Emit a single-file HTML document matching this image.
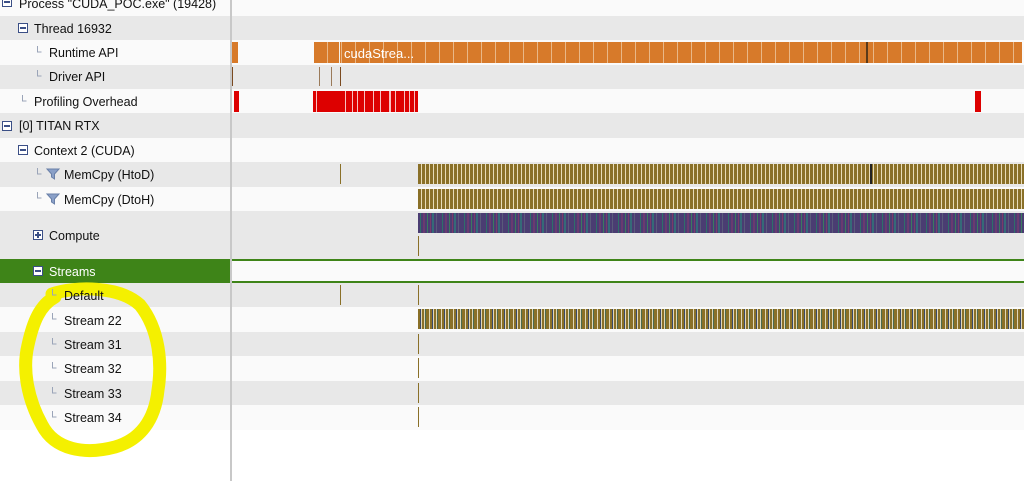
<!DOCTYPE html>
<html><head><meta charset="utf-8"><style>
html,body{margin:0;padding:0;width:1024px;height:481px;overflow:hidden;background:#fff;font-family:"Liberation Sans",sans-serif;}
</style></head><body>
<svg width="1024" height="481" xmlns="http://www.w3.org/2000/svg" style="display:block">
<defs>
<pattern id="olive" x="418" y="0" width="4" height="10" patternUnits="userSpaceOnUse">
<rect width="4" height="10" fill="#e8dcb8"/><rect width="3" height="10" fill="#8a7028"/></pattern>
<pattern id="olive2" x="418" y="0" width="12" height="10" patternUnits="userSpaceOnUse">
<rect width="12" height="10" fill="#e0d6b8"/><rect x="0" width="2" height="10" fill="#8a7028"/><rect x="2" width="1" height="10" fill="#3a4a6a"/><rect x="4" width="2" height="10" fill="#8a7028"/><rect x="7" width="1" height="10" fill="#4a6a50"/><rect x="8" width="3" height="10" fill="#8a7028"/></pattern>
<pattern id="comp" x="418" y="0" width="22" height="10" patternUnits="userSpaceOnUse">
<rect width="22" height="10" fill="#4a3d72"/><rect x="2" width="1" height="10" fill="#2f6f6a"/><rect x="5" width="2" height="10" fill="#6a3a70"/><rect x="9" width="1" height="10" fill="#3a7a60"/><rect x="12" width="1" height="10" fill="#7a3a6a"/><rect x="14" width="2" height="10" fill="#356a78"/><rect x="18" width="1" height="10" fill="#5a5a7a"/></pattern>
<pattern id="rt" x="314" y="0" width="14" height="10" patternUnits="userSpaceOnUse">
<rect width="14" height="10" fill="#d77a2a"/><rect x="13" width="1" height="10" fill="#e9b888"/></pattern>
</defs>
<rect x="0" y="0" width="1024" height="16" fill="#fafafa"/>
<rect x="0" y="16" width="1024" height="24" fill="#e8e8e8"/>
<rect x="0" y="40" width="1024" height="25" fill="#fafafa"/>
<rect x="0" y="65" width="1024" height="24" fill="#e8e8e8"/>
<rect x="0" y="89" width="1024" height="24" fill="#fafafa"/>
<rect x="0" y="113" width="1024" height="25" fill="#e8e8e8"/>
<rect x="0" y="138" width="1024" height="24" fill="#fafafa"/>
<rect x="0" y="162" width="1024" height="25" fill="#e8e8e8"/>
<rect x="0" y="187" width="1024" height="24" fill="#fafafa"/>
<rect x="0" y="211" width="1024" height="48" fill="#e8e8e8"/>
<rect x="0" y="259" width="230" height="24" fill="#3e8418"/>
<rect x="232" y="259" width="792" height="24" fill="#fafafa"/>
<rect x="232" y="259" width="792" height="2" fill="#3e8418"/>
<rect x="232" y="281" width="792" height="2" fill="#3e8418"/>
<rect x="0" y="283" width="1024" height="24" fill="#e8e8e8"/>
<rect x="0" y="307" width="1024" height="25" fill="#fafafa"/>
<rect x="0" y="332" width="1024" height="24" fill="#e8e8e8"/>
<rect x="0" y="356" width="1024" height="25" fill="#fafafa"/>
<rect x="0" y="381" width="1024" height="24" fill="#e8e8e8"/>
<rect x="0" y="405" width="1024" height="25" fill="#fafafa"/>
<rect x="0" y="430" width="1024" height="51" fill="#fff"/>
<rect x="230" y="0" width="2" height="481" fill="#c8c8c8"/>
<rect x="232" y="42" width="6" height="21" fill="#d77a2a"/>
<rect x="314" y="42" width="708" height="21" fill="url(#rt)"/>
<rect x="339" y="42" width="1" height="21" fill="#f5f0e8"/>
<rect x="866" y="42" width="2" height="21" fill="#5a3a1a"/>
<text x="344" y="58" font-size="13" fill="#fff">cudaStrea...</text>
<rect x="232" y="67" width="1" height="19" fill="#7a4a20"/>
<rect x="319" y="67" width="1" height="19" fill="#9a7a5a"/>
<rect x="331" y="67" width="1" height="19" fill="#9a7a5a"/>
<rect x="340" y="67" width="1" height="19" fill="#7a4a20"/>
<rect x="234" y="91" width="5" height="21" fill="#dd0000"/>
<rect x="313" y="91" width="105" height="21" fill="#dd0000"/>
<g fill="#f6c0c0"><rect x="316" y="91" width="1" height="21"/><rect x="345" y="91" width="1" height="21"/><rect x="352" y="91" width="1" height="21"/><rect x="357" y="91" width="1" height="21"/><rect x="364" y="91" width="1" height="21"/><rect x="373" y="91" width="1" height="21"/><rect x="380" y="91" width="1" height="21"/><rect x="389" y="91" width="2" height="21"/><rect x="395" y="91" width="1" height="21"/><rect x="404" y="91" width="1" height="21"/><rect x="409" y="91" width="1" height="21"/><rect x="414" y="91" width="1" height="21"/></g>
<rect x="975" y="91" width="6" height="21" fill="#dd0000"/>
<rect x="340" y="164" width="1" height="20" fill="#8a7028"/>
<rect x="418" y="164" width="606" height="20" fill="url(#olive)"/>
<rect x="870" y="164" width="2" height="20" fill="#222"/>
<rect x="418" y="189" width="606" height="20" fill="url(#olive)"/>
<rect x="418" y="213" width="606" height="20" fill="url(#comp)"/>
<rect x="418" y="236" width="1" height="20" fill="#8a7028"/>
<rect x="340" y="285" width="1" height="20" fill="#8a7028"/>
<rect x="418" y="285" width="1" height="20" fill="#8a7028"/>
<rect x="418" y="309" width="606" height="20" fill="url(#olive2)"/>
<rect x="418" y="334" width="1" height="20" fill="#8a7028"/>
<rect x="418" y="358" width="1" height="20" fill="#8a7028"/>
<rect x="418" y="383" width="1" height="20" fill="#8a7028"/>
<rect x="418" y="407" width="1" height="20" fill="#8a7028"/>
<!-- yellow circle (behind labels) -->
<path d="M52 294 C75 286,120 286,140 305 C160 330,162 365,158 390 C155 420,140 440,115 447 C85 455,55 450,42 425 C28 400,22 370,28 345 C33 322,40 305,55 297" fill="none" stroke="#f4f000" stroke-width="13" stroke-linecap="round"/>
<g fill="none" stroke="#3b4f86" stroke-width="1">
<rect x="2.5" y="-2.5" width="9" height="9" fill="#fff"/><line x1="4" y1="2" x2="10" y2="2" stroke-width="2"/>
<rect x="18.5" y="23.5" width="9" height="9" fill="#fff"/><line x1="20" y1="28" x2="26" y2="28" stroke-width="2"/>
<rect x="2.5" y="121.5" width="9" height="9" fill="#fff"/><line x1="4" y1="126" x2="10" y2="126" stroke-width="2"/>
<rect x="18.5" y="145.5" width="9" height="9" fill="#fff"/><line x1="20" y1="150" x2="26" y2="150" stroke-width="2"/>
<rect x="33.5" y="230.5" width="9" height="9" fill="#fff"/><line x1="35" y1="235" x2="41" y2="235" stroke-width="2"/><line x1="38" y1="232" x2="38" y2="238" stroke-width="2"/>
<rect x="33.5" y="266.5" width="9" height="9" fill="#fff"/><line x1="35" y1="271" x2="41" y2="271" stroke-width="2"/>
</g>
<g fill="none" stroke="#9aa4b8" stroke-width="1">
<path d="M37.5 46v6h4"/><path d="M37.5 70v6h4"/><path d="M22.5 95v6h4"/>
<path d="M37.5 168v6h4"/><path d="M37.5 192v6h4"/>
<path d="M52.5 289v6h4"/><path d="M52.5 313v6h4"/><path d="M52.5 338v6h4"/><path d="M52.5 362v6h4"/><path d="M52.5 387v6h4"/><path d="M52.5 411v6h4"/>
</g>
<path d="M47 169h12l-4.5 5v5l-3-2v-3z" fill="#8aa0c8" stroke="#6a80a8"/>
<path d="M47 194h12l-4.5 5v5l-3-2v-3z" fill="#8aa0c8" stroke="#6a80a8"/>
<g font-size="12.5" fill="#111">
<text x="19" y="8">Process "CUDA_POC.exe" (19428)</text>
<text x="34" y="33">Thread 16932</text>
<text x="49" y="57">Runtime API</text>
<text x="49" y="81">Driver API</text>
<text x="34" y="106">Profiling Overhead</text>
<text x="19" y="130">[0] TITAN RTX</text>
<text x="34" y="155">Context 2 (CUDA)</text>
<text x="64" y="179">MemCpy (HtoD)</text>
<text x="64" y="204">MemCpy (DtoH)</text>
<text x="49" y="240">Compute</text>
<text x="49" y="276" fill="#fff">Streams</text>
<text x="64" y="300">Default</text>
<text x="64" y="325">Stream 22</text>
<text x="64" y="349">Stream 31</text>
<text x="64" y="373">Stream 32</text>
<text x="64" y="398">Stream 33</text>
<text x="64" y="422">Stream 34</text>
</g>
</svg>
</body></html>
